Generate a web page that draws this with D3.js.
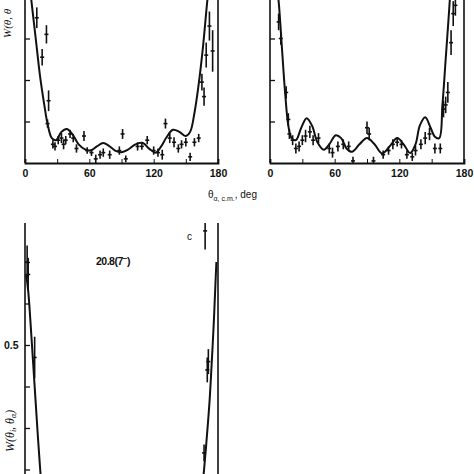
<!DOCTYPE html>
<html><head><meta charset="utf-8">
<script src="https://cdn.jsdelivr.net/npm/d3@7"></script>
<style>body{margin:0;background:#fff}text{fill:#111}</style>
</head><body><svg id="c" width="474" height="474"></svg>
<script>
// panel a curve and points (theta, W)
const curveA = [[3,4.6],[6,3.9],[10,3.0],[14,2.1],[18,1.4],[21,0.95],[25,0.6],[29,0.55],[34,0.75],[39,0.82],[44,0.7],[50,0.45],[56,0.33],[61,0.3],[67,0.4],[73,0.48],[78,0.42],[84,0.3],[90,0.26],[96,0.32],[103,0.45],[110,0.48],[116,0.34],[122,0.25],[127,0.4],[132,0.62],[138,0.8],[144,0.75],[150,0.65],[154,0.75],[158,1.2],[162,1.9],[166,2.8],[170,3.9],[173,4.6]];
const ptsA = [[11,3.5,0.25],[20,3.1,0.22],[16,2.55,0.2],[22,1.5,0.25],[21,0.95,0.1],[26,0.45,0.1],[28,0.4,0.1],[31,0.55,0.1],[34,0.6,0.12],[36,0.45,0.12],[38,0.55,0.1],[42,0.7,0.1],[45,0.6,0.1],[48,0.35,0.1],[55,0.65,0.12],[58,0.3,0.08],[62,0.25,0.08],[66,0.1,0.1],[70,0.2,0.1],[73,0.25,0.1],[79,0.2,0.1],[88,0.3,0.1],[91,0.7,0.12],[94,0.1,0.08],[105,0.4,0.1],[109,0.4,0.08],[114,0.55,0.1],[120,0.3,0.1],[124,0.25,0.1],[128,0.2,0.12],[131,0.95,0.12],[135,0.6,0.12],[139,0.5,0.12],[143,0.35,0.1],[146,0.45,0.1],[150,0.5,0.1],[154,0.15,0.1],[158,0.5,0.1],[162,0.6,0.1],[165,1.95,0.2],[167,1.6,0.22],[169,2.6,0.3],[172,3.3,0.35],[175,2.7,0.5]];
// panel b
const curveB = [[4,4.8],[8,3.9],[11,2.8],[14,1.7],[17,0.9],[20,0.6],[24,0.55],[29,0.85],[34,1.08],[39,0.9],[44,0.5],[50,0.32],[55,0.45],[61,0.67],[66,0.6],[71,0.35],[76,0.27],[83,0.45],[90,0.6],[97,0.45],[104,0.23],[111,0.4],[118,0.6],[124,0.45],[130,0.24],[135,0.45],[139,0.9],[144,1.1],[149,0.85],[153,0.63],[157,0.6],[160,1.4],[163,2.5],[166,3.6],[169,4.8]];
const ptsB = [[8,3.4,0.2],[10,3.0,0.15],[15,1.7,0.15],[17,1.05,0.15],[18,0.7,0.12],[21,0.55,0.12],[24,0.35,0.12],[27,0.4,0.12],[30,0.55,0.12],[33,0.65,0.15],[37,0.75,0.15],[40,0.55,0.12],[45,0.6,0.12],[55,0.35,0.12],[58,0.25,0.12],[63,0.4,0.12],[68,0.45,0.12],[73,0.4,0.12],[77,0.05,0.1],[90,0.85,0.15],[92,0.7,0.15],[96,0.05,0.1],[105,0.2,0.1],[110,0.3,0.1],[114,0.45,0.12],[118,0.5,0.1],[122,0.45,0.1],[127,0.2,0.1],[132,0.15,0.1],[135,0.3,0.12],[140,0.45,0.12],[144,0.6,0.15],[148,0.7,0.15],[153,0.35,0.12],[158,0.35,0.12],[161,1.3,0.2],[163,1.4,0.2],[165,1.7,0.25],[168,2.9,0.3],[170,3.6,0.3],[172,3.8,0.25]];
// panel c
const curveC = [[1,0.67],[3,0.63],[6,0.52],[9,0.4],[12,0.28],[15,0.17]];
const curveC2 = [[166,0.17],[169,0.26],[172,0.36],[174,0.45],[176,0.55],[177.5,0.64],[178.5,0.7]];
const ptsC = [[2,0.70,0.04],[3,0.67,0.04],[9,0.47,0.05],[168,0.775,0.045],[170,0.44,0.03],[171,0.46,0.03],[167,0.24,0.02]];
const xTicks = [0, 60, 120, 180];

const svg = d3.select("#c");
const sans = "font-family:'Liberation Sans',Arial,sans-serif";
const serif = "font-family:'Liberation Serif',serif";

function panel(left, right, top, bottom, yDomain, yTicks, curves, pts) {
    const x = d3.scaleLinear().domain([0, 180]).range([left, right]);
    const y = d3.scaleLinear().domain(yDomain).range([bottom, top]);
    const id = "clip" + left + top;
    svg.append("clipPath").attr("id", id).append("rect")
        .attr("x", left).attr("y", top).attr("width", right - left).attr("height", bottom - top);
    const g = svg.append("g");
    const line = d3.line().x(d => x(d[0])).y(d => y(d[1])).curve(d3.curveCatmullRom);
    curves.forEach(c => g.append("path").datum(c).attr("d", line)
        .attr("clip-path", `url(#${id})`)
        .attr("fill", "none").attr("stroke", "#111").attr("stroke-width", 2));
    const p = g.append("g").attr("clip-path", `url(#${id})`).selectAll("g").data(pts).join("g")
        .attr("stroke", "#111").attr("stroke-width", 1.6);
    p.append("line").attr("x1", d => x(d[0])).attr("x2", d => x(d[0]))
        .attr("y1", d => y(d[1] - d[2])).attr("y2", d => y(d[1] + d[2]));
    p.append("line").attr("x1", d => x(d[0]) - 2).attr("x2", d => x(d[0]) + 2)
        .attr("y1", d => y(d[1])).attr("y2", d => y(d[1]));
    // frame
    g.append("line").attr("x1", left).attr("x2", left).attr("y1", top).attr("y2", bottom).attr("stroke", "#111").attr("stroke-width", 1.6);
    g.append("line").attr("x1", right).attr("x2", right).attr("y1", top).attr("y2", bottom).attr("stroke", "#111").attr("stroke-width", 1.6);
    g.append("g").attr("transform", `translate(${left},0)`)
        .call(d3.axisRight(y).tickValues(yTicks).tickSize(5).tickFormat(""))
        .call(a => a.select(".domain").remove())
        .call(a => a.selectAll("line").attr("stroke", "#111").attr("stroke-width", 1.3));
    return { x, y, g };
}

const a = panel(25, 218, 0, 163, [0, 163 / 41.5], [1, 2, 3], [curveA], ptsA);
const b = panel(270, 464, 0, 163, [0, 163 / 41.5], [1, 2, 3], [curveB], ptsB);
[a, b].forEach(p => {
    p.g.append("g").attr("transform", "translate(0,163)")
        .call(d3.axisBottom(p.x).tickValues(xTicks).tickSize(-4).tickPadding(7).tickFormat(d3.format("d")))
        .call(ax => ax.select(".domain").attr("stroke", "#111").attr("stroke-width", 1.8))
        .call(ax => ax.selectAll("line").attr("stroke", "#111"))
        .call(ax => ax.selectAll("text").attr("style", sans + ";font-size:10.5px;font-weight:bold;fill:#111"));
    p.g.append("g").attr("transform", "translate(0,163)")
        .call(d3.axisBottom(p.x).tickValues([30, 90, 150]).tickSize(-4).tickFormat(""))
        .call(ax => ax.select(".domain").remove())
        .call(ax => ax.selectAll("line").attr("stroke", "#111"));
});
svg.append("text").attr("x", 208).attr("y", 198).attr("style", sans + ";font-size:10px")
    .html('θ<tspan font-size="7" dy="3">α, c.m.</tspan><tspan dy="-3">, deg</tspan>');
svg.append("text").attr("transform", "translate(11,38) rotate(-90)").attr("style", serif + ";font-size:11px;font-style:italic")
    .text("W(θ, θ");

const c = panel(25, 218, 223, 480, [0.5 - 135 / 415, 0.5 + 122 / 415], [0.2, 0.3, 0.4, 0.5, 0.6, 0.7], [curveC, curveC2], ptsC);
svg.append("text").attr("x", 4).attr("y", 349).attr("style", sans + ";font-size:10.5px;font-weight:bold").text("0.5");
svg.append("text").attr("x", 96).attr("y", 265).attr("style", sans + ";font-size:10.5px;font-weight:bold;letter-spacing:-0.5px")
    .html('20.8(7<tspan font-size="8" dy="-4">−</tspan><tspan dy="4">)</tspan>');
svg.append("text").attr("x", 187).attr("y", 240).attr("style", sans + ";font-size:10px").text("c");
svg.append("text").attr("transform", "translate(14,452) rotate(-90)").attr("style", serif + ";font-size:12px;font-style:italic")
    .html('W(θ<tspan font-size="8" dy="2">i</tspan><tspan dy="-2">, θ</tspan><tspan font-size="8" dy="2">α</tspan><tspan dy="-2">)</tspan>');
</script></body></html>
